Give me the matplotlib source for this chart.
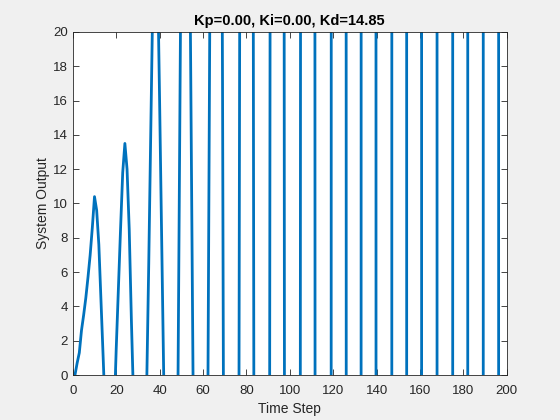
import numpy as np
import matplotlib
matplotlib.use("Agg")
import matplotlib.pyplot as plt

# Time steps (1..200) and system output.
# Values outside the visible 0..20 window are estimates that keep the
# zero crossings where they appear in the picture.
time_step = np.arange(1, 201)
output = [
    # 1-14
    0, 0.7, 1.3, 2.6, 3.5, 4.5, 5.7, 7.0, 8.6, 10.4, 9.6, 7.6, 4.3, 1.0,
    # 15-27
    -2.5, -5, -6, -5, -2.5, 1.5, 5.0, 8.5, 11.8, 13.5, 12.0, 8.5, 3.2,
    # 28-41
    -1.5, -6, -9, -10, -9, -6, -1, 6.5, 15, 23, 27, 24, 16, 7.5,
    # 42-55
    -1, -9, -16, -20, -19, -15, -9, 9, 27, 38, 42, 37, 23.4, 6.7,
    # 56-69
    -10, -28, -40, -42, -35, -24, -7.5, 17.5, 42.5, 62, 72, 68, 48, 17,
    # 70-83
    -26, -70, -100, -110, -98, -72, -40, 27, 95, 142, 160, 145, 101, 36,
    # 84-97
    -49, -139, -202, -230, -215, -161, -78, 30, 174, 281, 329, 308, 223, 91,
    # 98-111
    -82, -272, -412, -477, -455, -350, -183, 32, 341, 577, 693, 664, 495, 223,
    # 112-126
    -127, -524, -828, -986, -968, -778, -450, -42, 577, 1103, 1405, 1419, 1145, 638, 5,
    # 127-139
    -924, -1659, -2056, -2035, -1598, -838, 137, 1441, 2450, 2961, 2868, 2193, 1067,
    # 140-153
    -384, -2200, -3604, -4333, -4250, -3371, -1863, -20, 2772, 4977, 6168, 6105, 4794, 2514,
    # 154-167
    -414, -4368, -7435, -8982, -8700, -6652, -3240, 1147, 6580, 10750, 12840, 12470, 9690, 5060,
    # 168-182
    -830, -8780, -15060, -18540, -18550, -15070, -8780, -830, 11140, 21310, 27130, 27410, 22120, 12320, 60,
    # 183-196
    -16920, -30640, -38640, -39400, -32760, -20000, -3480, 20100, 41470, 54810, 57650, 49360, 31550, 7660,
    # 197-200
    -25200, -56700, -77600, -83900,
]

kp, ki, kd = 0.00, 0.00, 14.85

plt.rcParams['font.family'] = ['Liberation Sans', 'DejaVu Sans']
ink = '#262626'

fig = plt.figure(figsize=(5.6, 4.2), dpi=100, facecolor='#f0f0f0')
ax = fig.add_axes([0.13, 0.107, 0.775, 0.817])
ax.plot(time_step, output, color='#0072BD', linewidth=2)

ax.set_xlim(0, 200)
ax.set_ylim(0, 20)
ax.set_xticks(np.arange(0, 201, 20))
ax.set_yticks(np.arange(0, 21, 2))
ax.tick_params(direction='in', length=4, width=0.6, colors=ink, labelsize=9.5,
               top=True, right=True, labelcolor=ink)
ax.tick_params(axis='x', pad=7)
for s in ax.spines.values():
    s.set_color(ink)
    s.set_linewidth(0.6)

ax.set_xlabel('Time Step', fontsize=10, color=ink, labelpad=4)
ax.set_ylabel('System Output', fontsize=10, color=ink, labelpad=2)
ax.set_title('Kp=%.2f, Ki=%.2f, Kd=%.2f' % (kp, ki, kd), fontsize=10.5,
             fontweight='bold', color='black', pad=5)

fig.savefig('out.png', dpi=100, facecolor=fig.get_facecolor())
